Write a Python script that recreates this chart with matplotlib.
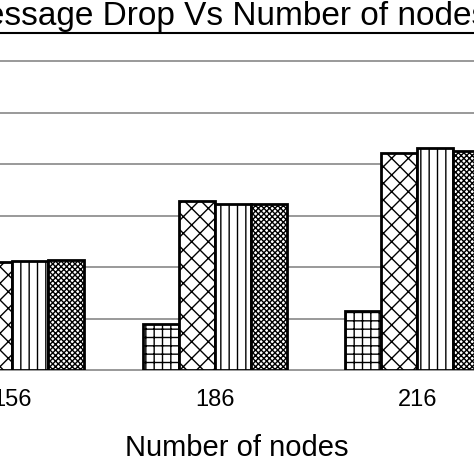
import matplotlib
matplotlib.use("Agg")
import matplotlib.pyplot as plt
import numpy as np

plt.rcParams['font.family'] = ['Liberation Sans', 'DejaVu Sans']
plt.rcParams['hatch.linewidth'] = 1.0

categories = ["156", "186", "216"]
series1 = [0.5, 0.89, 1.15]
series2 = [2.10, 3.28, 4.21]
series3 = [2.12, 3.22, 4.31]
series4 = [2.14, 3.22, 4.25]
hatches = ['++', 'xx', '||', 'xxxxxx']

fig = plt.figure(figsize=(4.74, 4.74), dpi=100)
ax = fig.add_axes([0, (474-370)/474, 1, 334/474])
x = np.arange(len(categories))
w = 0.178
for i, (vals, h) in enumerate(zip([series1, series2, series3, series4], hatches)):
    ax.bar(x + (i - 1.5) * w, vals, w, color='white', edgecolor='black',
           hatch=h, linewidth=2, zorder=3)
ax.set_xlim(-0.06, 2.28)
ax.set_ylim(0, 334/51.5)
ax.set_yticks(np.arange(1, 7))
ax.set_yticklabels([])
ax.tick_params(axis='y', length=0)
ax.grid(axis='y', color='#888888', linewidth=1.2, zorder=0)
ax.set_xticks(x)
ax.set_xticklabels(categories, fontsize=17)
ax.tick_params(axis='x', length=0, pad=14)
for s in ['top', 'left', 'right']:
    ax.spines[s].set_visible(False)
ax.spines['bottom'].set_color('#888888')
ax.spines['bottom'].set_linewidth(1.2)
ax.set_xlabel("Number of nodes", fontsize=21, labelpad=16)
fig.text(0.47, 1 - 17/474, "Message Drop Vs Number of nodes", ha='center', va='center',
         fontsize=24)
fig.add_artist(plt.Line2D([0, 1], [1 - 33/474] * 2, color='black', linewidth=1.5))
fig.savefig("out.png", dpi=100)
